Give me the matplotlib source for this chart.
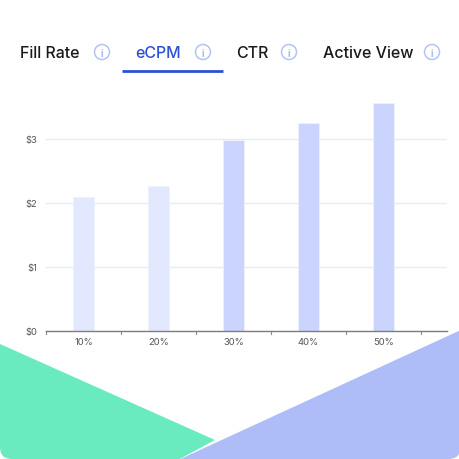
import matplotlib
matplotlib.use('Agg')
import matplotlib.pyplot as plt
from matplotlib.patches import Polygon, FancyBboxPatch, Circle

plt.rcParams['font.family'] = ['Inter', 'DejaVu Sans']

# data
categories = ['10%', '20%', '30%', '40%', '50%']
ecpm = [2.09, 2.26, 2.99, 3.25, 3.57]
bar_colors = ['#e2e8fd', '#e2e8fd', '#cad4fc', '#cad4fc', '#cad4fc']
yticks = [0, 1, 2, 3]
ytick_labels = ['$0', '$1', '$2', '$3']
tabs = ['Fill Rate', 'eCPM', 'CTR', 'Active View']
tab_x = [20, 135, 236, 323]
icon_x = [102, 203, 289, 432]
active_tab = 1

W = H = 460
fig = plt.figure(figsize=(4.6, 4.6), dpi=100)
fig.patch.set_facecolor('white')

# background layer in pixel coordinates (a little larger than the figure)
m = 3
bg = fig.add_axes([-m / W, -m / H, (W + 2 * m) / W, (H + 2 * m) / H])
bg.set_xlim(-m, W + m)
bg.set_ylim(H + m, -m)
bg.axis('off')

card = FancyBboxPatch((0, -20), W + 0.5, H + 20, boxstyle='round,pad=0,rounding_size=12',
                      facecolor='white', edgecolor='none', transform=bg.transData)
bg.add_patch(card)
green = Polygon([(0, 345), (215, 441), (176, 462), (0, 462)], closed=True,
                facecolor='#6aebbf', edgecolor='none')
blue = Polygon([(176, 462), (463, 330), (463, 462)], closed=True,
               facecolor='#aebdf7', edgecolor='none')
for p in (green, blue):
    bg.add_patch(p)
    p.set_clip_path(card)

# tabs
for i, (t, x) in enumerate(zip(tabs, tab_x)):
    col = '#2b50d8' if i == active_tab else '#1a1a1a'
    bg.text(x, 53, t, fontsize=11.5, color=col, ha='left', va='center', fontweight='medium')
for x in icon_x:
    bg.add_patch(Circle((x, 53), 7.5, facecolor='none', edgecolor='#b4c3f7', lw=1.1))
    bg.text(x, 53.5, 'i', fontsize=7, color='#a9b9f5', ha='center', va='center',
            fontweight='bold')
bg.plot([122, 223], [72, 72], color='#2b50d8', lw=2, solid_capstyle='butt')

# chart
y0 = 332
px = 64  # pixels per dollar
ytop = 3.7
left, right = 46, 447
ax = fig.add_axes([left / W, (H - y0) / H, (right - left) / W, ytop * px / H])
ax.patch.set_alpha(0)
xs = list(range(len(categories)))
ax.bar(xs, ecpm, width=0.285, color=bar_colors, edgecolor='#eef2fe', linewidth=0.6, zorder=2)
ax.set_xlim(-0.5, -0.5 + (right - left) / 75)
ax.set_ylim(0, ytop)
ax.set_yticks(yticks)
ax.set_yticklabels(ytick_labels)
ax.set_xticks(xs)
ax.set_xticklabels(categories)
for s in ['top', 'right', 'left']:
    ax.spines[s].set_visible(False)
ax.spines['bottom'].set_color('#7d7d7d')
ax.spines['bottom'].set_linewidth(1)
ax.grid(axis='y', color='#e6ecf6', lw=1, zorder=0)
ax.tick_params(axis='y', length=0, labelsize=6.8, labelcolor='#555555', pad=6)
ax.tick_params(axis='x', length=0, labelsize=6.8, labelcolor='#555555', pad=4)
# band boundary ticks
for b in [-0.5, 0.5, 1.5, 2.5, 3.5, 4.5]:
    ax.plot([b, b], [0, -0.04], color='#8a8a8a', lw=0.8, clip_on=False)

fig.savefig('out.png', dpi=100)
